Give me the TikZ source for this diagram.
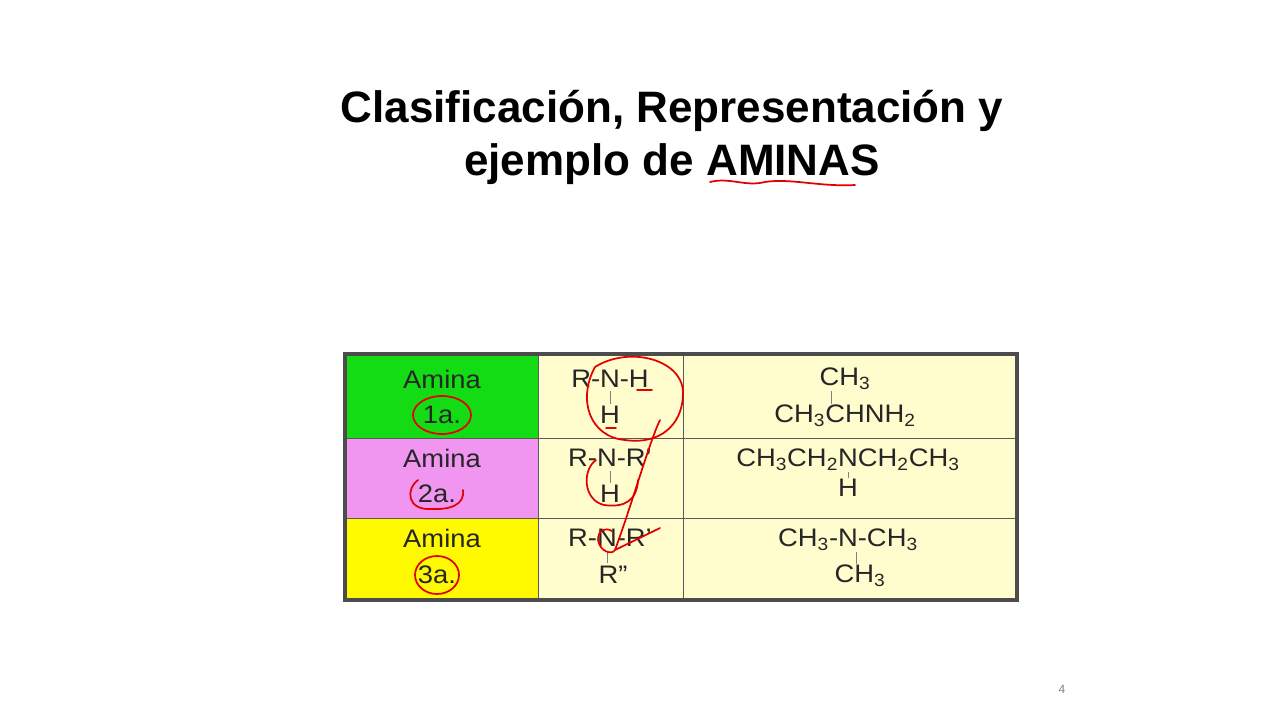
\documentclass[tikz,border=0pt]{standalone}
\usepackage{fontspec}
\setmainfont{Liberation Sans}
\newcommand{\sbs}[1]{\textsubscript{#1}}
\definecolor{cgreen}{RGB}{20,220,20}
\definecolor{cpink}{RGB}{240,150,240}
\definecolor{cyel}{RGB}{255,250,0}
\definecolor{ccream}{RGB}{255,252,205}
\begin{document}
\begin{tikzpicture}[x=0.75pt,y=-0.75pt,
  tx/.style={font=\fontsize{19}{20}\selectfont, inner sep=0pt, text=black!85, xscale=1.08},
  ttl/.style={font=\fontsize{33}{35}\selectfont\bfseries, inner sep=0pt},
  ink/.style={draw=red!90!black, line width=1.3pt, line cap=round}]
\useasboundingbox (0,0) rectangle (1280,720);
\fill[white] (0,0) rectangle (1280,720);
% title
\node[ttl] (t1) at (672,111) {Clasificación, Representación y};
\node[ttl] (t2) at (672,164) {ejemplo de AMINAS};
\draw[ink] (710,182) .. controls (730,177) and (745,187) .. (765,182) .. controls (790,178) and (820,187) .. (855,185);
% table
\fill[cgreen] (345,354) rectangle (538,438);
\fill[cpink] (345,438) rectangle (538,518);
\fill[cyel] (345,518) rectangle (538,600);
\fill[ccream] (538,354) rectangle (1017,600);
\draw[gray!70!black, line width=0.6pt] (538,354) -- (538,600) (683,354) -- (683,600)
  (345,438) -- (1017,438) (345,518) -- (1017,518);
\draw[black!70, line width=3pt] (345,354) rectangle (1017,600);
% row 1
\node[tx] (a1) at (442,379) {Amina};
\node[tx] (b1) at (442,415) {1a.};
\node[tx] (r1) at (610,379) {R-N-H};
\node[tx] (h1) at (610,415) {H};
\draw[gray, line width=0.4pt] (610,391) -- (610,404);
\node[tx] (c1) at (845,379) {CH\sbs{3}};
\node[tx] (d1) at (845,416) {CH\sbs{3}CHNH\sbs{2}};
\draw[gray, line width=0.4pt] (831,391) -- (831,404);
% row 2
\node[tx] (a2) at (442,458) {Amina};
\node[tx] (b2) at (437,494) {2a.};
\node[tx] (r2) at (610,458) {R-N-R'};
\node[tx] (h2) at (610,494) {H};
\draw[gray, line width=0.4pt] (610,471) -- (610,483);
\node[tx] (c2) at (848,460) {CH\sbs{3}CH\sbs{2}NCH\sbs{2}CH\sbs{3}};
\node[tx] (d2) at (848,488) {H};
\draw[gray, line width=0.4pt] (848,472) -- (848,478);
% row 3
\node[tx] (a3) at (442,538) {Amina};
\node[tx] (b3) at (437,575) {3a.};
\node[tx] (r3) at (610,538) {R-N-R'};
\node[tx] (h3) at (613,575) {R''};
\draw[gray, line width=0.4pt] (607,551) -- (607,563);
\node[tx] (c3) at (848,540) {CH\sbs{3}-N-CH\sbs{3}};
\node[tx] (d3) at (860,576) {CH\sbs{3}};
\draw[gray, line width=0.4pt] (856,552) -- (856,564);
% page number
\node[font=\fontsize{9}{10}\selectfont, text=gray] (pg) at (1062,689) {4};
% red annotations
\draw[ink] (b1) ellipse (29 and 19);
\draw[ink] (418,480) .. controls (405,490) and (408,510) .. (430,509) .. controls (450,510) and (465,505) .. (463,490);
\draw[ink] (b3) ellipse (22 and 19);
\draw[ink] (595,367) .. controls (630,345) and (685,360) .. (683,395) .. controls (682,425) and (660,445) .. (625,440)
  .. controls (590,437) and (577,400) .. (595,367);
\draw[ink] (660,420) .. controls (650,440) and (630,510) .. (615,550) .. controls (612,555) and (600,552) .. (598,540)
  .. controls (598,530) and (605,527) .. (612,531);
\draw[ink] (615,550) -- (660,528);
\draw[ink] (596,460) .. controls (582,470) and (583,500) .. (604,505) .. controls (625,508) and (637,500) .. (638,480);
\draw[ink] (637,390) -- (652,390);
\draw[ink] (606,428) -- (616,428);
\end{tikzpicture}
\end{document}
